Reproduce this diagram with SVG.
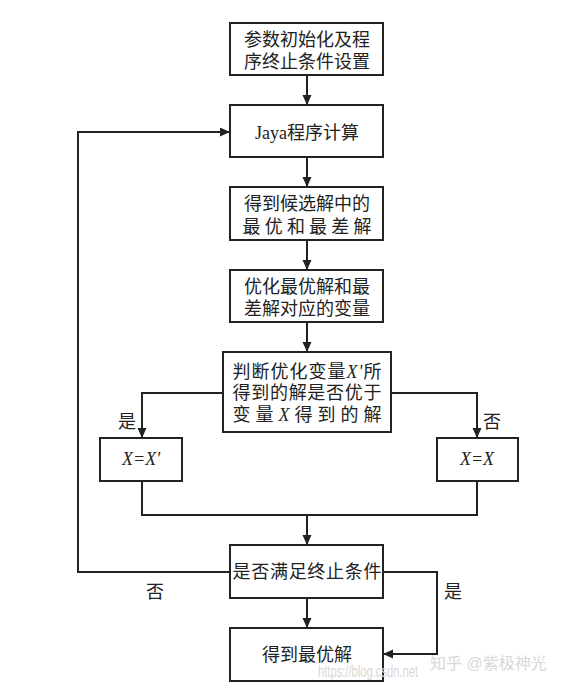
<svg xmlns="http://www.w3.org/2000/svg" width="562" height="690" viewBox="0 0 562 690">
<style>
.box{fill:#fff;stroke:#222;stroke-width:2}
.t{font-family:"Liberation Serif","Noto Sans CJK SC",serif;font-size:18px;fill:#222;text-anchor:middle}
.i{font-style:italic}
.c{fill:none;stroke:#222;stroke-width:2}
.wm{font-family:"Liberation Sans","Noto Sans CJK SC",sans-serif;font-size:16px;fill:#d8d8d8}
</style>
<defs>
<marker id="a" markerUnits="userSpaceOnUse" markerWidth="11" markerHeight="10" refX="10" refY="4.5" orient="auto"><path d="M0,0 L10,4.5 L0,9 z" fill="#222"/></marker>
</defs>
<rect width="562" height="690" fill="#fff"/>
<g id="connectors">
<line class="c" x1="307" y1="75" x2="307" y2="105" marker-end="url(#a)"/>
<line class="c" x1="307" y1="157" x2="307" y2="187" marker-end="url(#a)"/>
<line class="c" x1="307" y1="240" x2="307" y2="270" marker-end="url(#a)"/>
<line class="c" x1="307" y1="322" x2="307" y2="352" marker-end="url(#a)"/>
<polyline class="c" points="223,393 142,393 142,438" marker-end="url(#a)"/>
<polyline class="c" points="391,393 477,393 477,438" marker-end="url(#a)"/>
<polyline class="c" points="142,481 142,515 477,515 477,481"/>
<line class="c" x1="307" y1="515" x2="307" y2="545" marker-end="url(#a)"/>
<line class="c" x1="307" y1="598" x2="307" y2="628" marker-end="url(#a)"/>
<polyline class="c" points="230,572 78,572 78,132 230,132" marker-end="url(#a)"/>
<polyline class="c" points="383,572 437,572 437,654 383,654" marker-end="url(#a)"/>
<text class="t" x="127" y="428">是</text>
<text class="t" x="492" y="428">否</text>
<text class="t" x="155" y="598">否</text>
<text class="t" x="453" y="598">是</text>
</g>
<g id="n1"><rect class="box" x="230" y="23" width="153" height="52"/>
<text class="t" x="307" y="46">参数初始化及程</text><text class="t" x="307" y="68">序终止条件设置</text></g>
<g id="n2"><rect class="box" x="230" y="105" width="153" height="52"/>
<text class="t" x="307" y="139">Jaya程序计算</text></g>
<g id="n3"><rect class="box" x="230" y="187" width="153" height="53"/>
<text class="t" x="307" y="210">得到候选解中的</text><text class="t" x="307" y="233" textLength="129" lengthAdjust="spacing">最优和最差解</text></g>
<g id="n4"><rect class="box" x="230" y="270" width="153" height="52"/>
<text class="t" x="307" y="293">优化最优解和最</text><text class="t" x="307" y="315">差解对应的变量</text></g>
<g id="n5"><rect class="box" x="223" y="352" width="168" height="80"/>
<text class="t" x="307" y="378" textLength="149" lengthAdjust="spacing">判断优化变量<tspan class="i">X'</tspan>所</text>
<text class="t" x="307" y="399" textLength="149" lengthAdjust="spacing">得到的解是否优于</text>
<text class="t" x="307" y="421" textLength="149" lengthAdjust="spacing">变量<tspan class="i">X</tspan>得到的解</text></g>
<g id="n6"><rect class="box" x="100" y="438" width="82" height="43"/>
<text class="t i" x="141" y="465">X=X'</text></g>
<g id="n7"><rect class="box" x="437" y="438" width="81" height="43"/>
<text class="t i" x="477" y="465">X=X</text></g>
<g id="n8"><rect class="box" x="230" y="545" width="153" height="53"/>
<text class="t" x="307" y="578" textLength="149" lengthAdjust="spacing">是否满足终止条件</text></g>
<g id="n9"><rect class="box" x="230" y="628" width="153" height="53"/>
<text class="t" x="307" y="661">得到最优解</text></g>
<g id="watermark">
<text class="wm" x="318" y="677" font-size="14" textLength="100" lengthAdjust="spacingAndGlyphs">https://blog.csdn.net</text>
<text class="wm" x="430" y="669" fill="#cfcfcf">知乎 @紫极神光</text>
</g>
</svg>
